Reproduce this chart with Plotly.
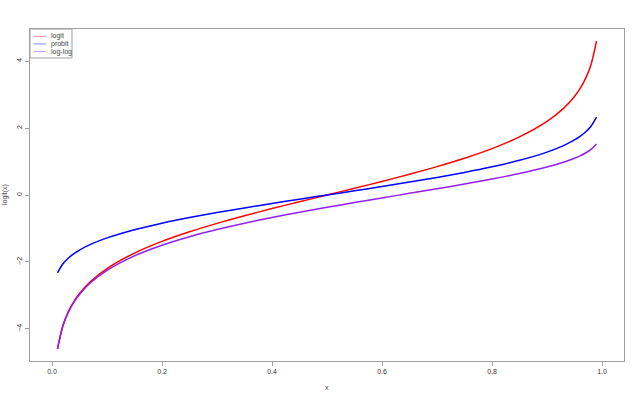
import plotly.graph_objects as go

x_vals = [0.01, 0.02, 0.03, 0.04, 0.05, 0.07, 0.10, 0.15, 0.20, 0.25, 0.30, 0.35, 0.40, 0.45, 0.50,
          0.55, 0.60, 0.65, 0.70, 0.75, 0.80, 0.85, 0.90, 0.93, 0.95, 0.96, 0.97, 0.98, 0.99]
logit_vals = [-4.595, -3.892, -3.476, -3.178, -2.944, -2.587, -2.197, -1.735, -1.386, -1.099, -0.847, -0.619, -0.405, -0.201, 0.0,
              0.201, 0.405, 0.619, 0.847, 1.099, 1.386, 1.735, 2.197, 2.587, 2.944, 3.178, 3.476, 3.892, 4.595]
probit_vals = [-2.326, -2.054, -1.881, -1.751, -1.645, -1.476, -1.282, -1.036, -0.842, -0.674, -0.524, -0.385, -0.253, -0.126, 0.0,
               0.126, 0.253, 0.385, 0.524, 0.674, 0.842, 1.036, 1.282, 1.476, 1.645, 1.751, 1.881, 2.054, 2.326]
loglog_vals = [-4.600, -3.902, -3.491, -3.198, -2.970, -2.623, -2.250, -1.817, -1.500, -1.246, -1.031, -0.842, -0.672, -0.514, -0.367,
               -0.225, -0.087, 0.049, 0.186, 0.327, 0.476, 0.640, 0.834, 0.978, 1.097, 1.169, 1.255, 1.364, 1.527]

series_names = ["logit", "probit", "log-log"]
series_colors = ["#FF0000", "#0000FF", "#9020F0"]
x_ticks = [0.0, 0.2, 0.4, 0.6, 0.8, 1.0]
y_ticks = [-4, -2, 0, 2, 4]

FONT = "Liberation Sans, Arial, sans-serif"
fig = go.Figure()
for name, vals, col in zip(series_names, [logit_vals, probit_vals, loglog_vals], series_colors):
    fig.add_trace(go.Scatter(x=x_vals, y=vals, mode="lines", name=name,
                             line=dict(color=col, width=1.5, shape="spline", smoothing=0.8),
                             showlegend=False))

# manual R-style legend
shapes = [dict(type="rect", xref="paper", yref="paper", x0=0, x1=0.0707, y0=0.9127, y1=1.0,
               line=dict(color="#A0A0A0", width=1), fillcolor="white")]
annotations = []
leg_y = [0.978, 0.955, 0.932]
for name, col, yy in zip(series_names, series_colors, leg_y):
    shapes.append(dict(type="line", xref="paper", yref="paper", x0=0.006, x1=0.027, y0=yy, y1=yy,
                       line=dict(color=col, width=1), opacity=0.45))
    annotations.append(dict(xref="paper", yref="paper", x=0.034, y=yy, text=name, showarrow=False,
                            xanchor="left", yanchor="middle", borderpad=0,
                            font=dict(size=7, color="#444444", family=FONT)))

# axis titles
annotations.append(dict(xref="paper", yref="paper", x=0.5, y=-0.08, yanchor="middle", text="x",
                        showarrow=False, font=dict(size=7, color="#444444", family=FONT)))
annotations.append(dict(xref="paper", yref="paper", x=-0.042, y=0.5, xanchor="center", yanchor="middle",
                        text="logit(x)", textangle=-90, showarrow=False,
                        font=dict(size=7, color="#444444", family=FONT)))

fig.update_layout(
    width=640, height=400,
    margin=dict(l=30, r=16, t=29, b=39, autoexpand=False),
    paper_bgcolor="white", plot_bgcolor="white",
    shapes=shapes, annotations=annotations,
    font=dict(family=FONT, size=7, color="#333333"),
    xaxis=dict(range=[-0.04, 1.04], tickvals=x_ticks, ticktext=["0.0", "0.2", "0.4", "0.6", "0.8", "1.0"],
               showgrid=False, zeroline=False, showline=True, linecolor="#A0A0A0", linewidth=1, mirror=True,
               ticks="outside", ticklen=4, tickcolor="#A0A0A0", automargin=False),
    yaxis=dict(range=[-4.96, 4.96], tickvals=y_ticks, tickangle=-90,
               showgrid=False, zeroline=False, showline=True, linecolor="#A0A0A0", linewidth=1, mirror=True,
               ticks="outside", ticklen=4, tickcolor="#A0A0A0", automargin=False),
)
fig.write_html("out.html", config={"displayModeBar": False},
               post_script="document.body.style.margin='0';")
